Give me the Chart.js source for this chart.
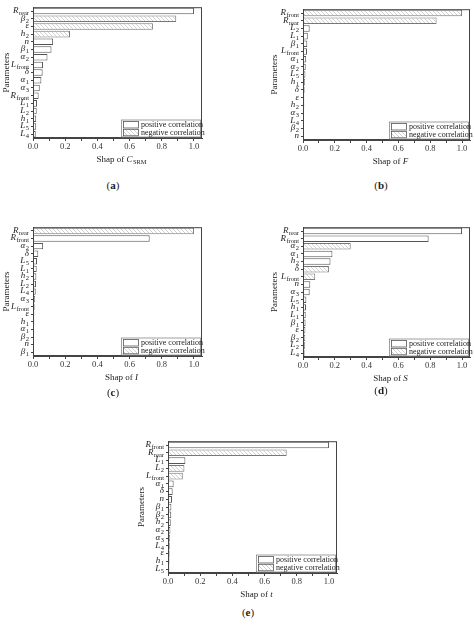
<!DOCTYPE html>
<html>
<head>
<meta charset="utf-8">
<script src="https://cdn.jsdelivr.net/npm/chart.js@4/dist/chart.umd.min.js"></script>
<style>
  html, body { margin: 0; padding: 0; background: #fff; }
  body { width: 474px; height: 629px; position: relative; overflow: hidden; }
  canvas { position: absolute; }
  .cap { position: absolute; font-family: "Liberation Serif", serif; font-size: 11px; color: #222; transform: translateX(-50%); }
  .cap b { font-weight: bold; }
</style>
</head>
<body>
<canvas id="ca" width="205" height="172" style="left:0;top:0"></canvas>
<canvas id="cb" width="205" height="172" style="left:268px;top:2px"></canvas>
<canvas id="cc" width="205" height="170" style="left:0;top:220px"></canvas>
<canvas id="cd" width="205" height="170" style="left:268px;top:220px"></canvas>
<canvas id="ce" width="205" height="172" style="left:135px;top:434px"></canvas>
<div class="cap" style="left:113px;top:179px">(<b>a</b>)</div>
<div class="cap" style="left:381px;top:179px">(<b>b</b>)</div>
<div class="cap" style="left:113px;top:386px">(<b>c</b>)</div>
<div class="cap" style="left:381px;top:384px">(<b>d</b>)</div>
<div class="cap" style="left:248px;top:606px">(<b>e</b>)</div>
<script>
// panel (a): Shap of C_SRM
const labelsA = ['R_rear','β_2','ε','h_2','n','β_1','α_2','L_front','δ','α_1','α_3','R_front','L_1','L_2','h_1','L_5','L_4'];
const valuesA = [1.0, 0.89, 0.745, 0.23, 0.125, 0.115, 0.09, 0.062, 0.06, 0.052, 0.042, 0.035, 0.025, 0.023, 0.02, 0.02, 0.017];
const signA   = [1, -1, -1, -1, 1, 1, 1, 1, 1, 1, 1, 1, 1, 1, 1, 1, 1];

// panel (b): Shap of F
const labelsB = ['R_front','R_rear','L_2','L_1','β_1','L_front','α_1','α_2','L_5','h_1','δ','ε','h_2','α_3','L_4','β_2','n'];
const valuesB = [1.0, 0.84, 0.042, 0.03, 0.027, 0.025, 0.02, 0.017, 0.015, 0.012, 0.01, 0.008, 0.008, 0.007, 0.006, 0.005, 0.004];
const signB   = [-1, -1, 1, 1, 1, 1, 1, 1, 1, 1, 1, 1, 1, 1, 1, 1, 1];

// panel (c): Shap of I
const labelsC = ['R_rear','R_front','α_2','δ','L_5','L_1','h_2','L_2','L_4','α_3','L_front','ε','h_1','α_1','β_2','n','β_1'];
const valuesC = [1.0, 0.725, 0.063, 0.033, 0.025, 0.023, 0.021, 0.019, 0.017, 0.012, 0.01, 0.008, 0.008, 0.007, 0.006, 0.005, 0.004];
const signC   = [-1, 1, 1, 1, 1, 1, 1, 1, 1, 1, 1, 1, 1, 1, 1, 1, 1];

// panel (d): Shap of S
const labelsD = ['R_rear','R_front','α_2','α_1','h_2','δ','L_front','n','α_3','L_5','h_1','L_1','β_1','ε','β_2','L_2','L_4'];
const valuesD = [1.0, 0.79, 0.30, 0.185, 0.173, 0.163, 0.077, 0.046, 0.042, 0.021, 0.019, 0.017, 0.016, 0.015, 0.014, 0.013, 0.01];
const signD   = [1, 1, -1, 1, 1, -1, -1, 1, 1, 1, 1, 1, 1, 1, 1, 1, 1];

// panel (e): Shap of t
const labelsE = ['R_front','R_rear','L_1','L_2','L_front','α_1','δ','n','β_1','β_2','h_2','α_2','α_3','L_4','ε','h_1','L_5'];
const valuesE = [1.0, 0.7375, 0.108, 0.102, 0.092, 0.035, 0.029, 0.025, 0.021, 0.02, 0.017, 0.015, 0.013, 0.011, 0.01, 0.009, 0.008];
const signE   = [1, -1, 1, -1, -1, 1, 1, 1, 1, 1, 1, 1, 1, 1, 1, 1, 1];

const xTicks = ['0.0','0.2','0.4','0.6','0.8','1.0'];
const legendText = ['positive correlation', 'negative correlation'];

const SERIF = '"Liberation Serif", "DejaVu Serif", serif';
const AXIS = '#444';

function hatchPattern(ctx) {
  const c = document.createElement('canvas');
  c.width = 4; c.height = 4;
  const g = c.getContext('2d');
  g.fillStyle = '#fff';
  g.fillRect(0, 0, 4, 4);
  g.strokeStyle = '#c4c4c4';
  g.lineWidth = 0.8;
  g.beginPath();
  g.moveTo(0, 0); g.lineTo(4, 4);
  g.moveTo(-1, 3); g.lineTo(1, 5);
  g.moveTo(3, -1); g.lineTo(5, 1);
  g.stroke();
  return ctx.createPattern(c, 'repeat');
}

// "main_sub": italic main symbol with a smaller roman subscript
function symbolWidth(ctx, s, size) {
  const [m, sub] = s.split('_');
  ctx.font = 'italic ' + size + 'px ' + SERIF;
  let w = ctx.measureText(m).width;
  if (sub) { ctx.font = (size * 0.72) + 'px ' + SERIF; w += ctx.measureText(sub).width + 0.5; }
  return w;
}
function drawSymbol(ctx, s, x, y, size) {
  const [m, sub] = s.split('_');
  ctx.textBaseline = 'middle';
  ctx.textAlign = 'left';
  ctx.font = 'italic ' + size + 'px ' + SERIF;
  ctx.fillText(m, x, y);
  if (sub) {
    const mw = ctx.measureText(m).width;
    ctx.font = (size * 0.72) + 'px ' + SERIF;
    ctx.fillText(sub, x + mw + 0.5, y + size * 0.3);
  }
}

const decorPlugin = {
  id: 'decor',
  afterDraw(chart, args, opts) {
    const ctx = chart.ctx;
    const a = chart.chartArea;
    const y = chart.scales.y;
    ctx.save();
    // frame top/right
    ctx.strokeStyle = AXIS;
    ctx.lineWidth = 1;
    ctx.strokeRect(a.left + 0.5, a.top + 0.5, a.right - a.left - 1, a.bottom - a.top - 1);
    // y labels
    ctx.fillStyle = '#222';
    chart.data.labels.forEach((lab, i) => {
      const py = y.getPixelForValue(i);
      const w = symbolWidth(ctx, lab, 9);
      drawSymbol(ctx, lab, a.left - 4 - w, py - 0.5, 9);
    });
    // y title
    ctx.save();
    ctx.translate(7, (a.top + a.bottom) / 2);
    ctx.rotate(-Math.PI / 2);
    ctx.font = '9px ' + SERIF;
    ctx.textAlign = 'center';
    ctx.textBaseline = 'middle';
    ctx.fillText('Parameters', 0, 0);
    ctx.restore();
    // x title
    ctx.font = '9px ' + SERIF;
    const pre = 'Shap of ';
    const pw = ctx.measureText(pre).width;
    const tw = pw + symbolWidth(ctx, opts.title, 9);
    const tx = (a.left + a.right) / 2 - tw / 2 + 4;
    const ty = a.bottom + 22;
    ctx.font = '9px ' + SERIF;
    ctx.textAlign = 'left';
    ctx.textBaseline = 'middle';
    ctx.fillText(pre, tx, ty);
    drawSymbol(ctx, opts.title, tx + pw, ty, 9);
    // legend box
    const lw = 79, lh = 17;
    const lx = a.right - lw - 2, ly = a.bottom - lh - 1.5;
    ctx.fillStyle = '#fff';
    ctx.fillRect(lx, ly, lw, lh);
    ctx.strokeStyle = '#888';
    ctx.lineWidth = 0.8;
    ctx.strokeRect(lx + 0.5, ly + 0.5, lw, lh);
    const ds = chart.data.datasets;
    legendText.forEach((t, k) => {
      const ry = ly + 1.5 + k * 7.8;
      ctx.fillStyle = ds[k].backgroundColor;
      ctx.fillRect(lx + 2, ry, 15, 6.5);
      ctx.strokeStyle = '#555';
      ctx.strokeRect(lx + 2.5, ry + 0.5, 15, 6.5);
      ctx.fillStyle = '#222';
      ctx.font = '8px ' + SERIF;
      ctx.textBaseline = 'middle';
      ctx.fillText(t, lx + 20, ry + 4);
    });
    ctx.restore();
  }
};

function makeChart(id, labels, values, signs, title, plotLeft, plotTop, plotBottom) {
  const canvas = document.getElementById(id);
  const ctx = canvas.getContext('2d');
  const pattern = hatchPattern(ctx);
  return new Chart(ctx, {
    type: 'bar',
    data: {
      labels: labels,
      datasets: [
        {
          label: legendText[0],
          data: values.map((v, i) => signs[i] > 0 ? v : null),
          backgroundColor: '#ffffff',
          borderColor: '#555',
          borderWidth: 1
        },
        {
          label: legendText[1],
          data: values.map((v, i) => signs[i] < 0 ? v : null),
          backgroundColor: pattern,
          borderColor: '#777',
          borderWidth: 1
        }
      ]
    },
    options: {
      indexAxis: 'y',
      responsive: false,
      animation: false,
      devicePixelRatio: 1,
      layout: { padding: { top: plotTop, right: 3, left: 0, bottom: 0 } },
      datasets: { bar: { barPercentage: 0.85, categoryPercentage: 1.0 } },
      plugins: {
        legend: { display: false },
        tooltip: { enabled: false },
        decor: { title: title }
      },
      scales: {
        x: {
          stacked: true,
          min: 0,
          max: 1.05,
          afterFit: s => { s.height = canvas.height - plotBottom; },
          border: { color: AXIS, width: 1 },
          grid: { drawOnChartArea: false, tickLength: 3, color: AXIS },
          ticks: {
            stepSize: 0.1,
            includeBounds: false,
            autoSkip: false,
            maxRotation: 0,
            padding: 1,
            color: '#333',
            font: { family: SERIF, size: 8.5 },
            callback: v => {
              const k = Math.round(v * 10);
              return (Math.abs(v * 10 - k) < 1e-4 && k % 2 === 0) ? xTicks[k / 2] : '';
            }
          }
        },
        y: {
          stacked: true,
          afterFit: s => { s.width = plotLeft; },
          border: { color: AXIS, width: 1 },
          grid: { drawOnChartArea: false, tickLength: 2, color: AXIS, offset: false },
          ticks: { autoSkip: false, callback: () => '', padding: 0 }
        }
      }
    },
    plugins: [decorPlugin]
  });
}

makeChart('ca', labelsA, valuesA, signA, 'C_SRM', 33, 2, 138);
makeChart('cb', labelsB, valuesB, signB, 'F', 35, 2, 138);
makeChart('cc', labelsC, valuesC, signC, 'I', 33, 2, 136);
makeChart('cd', labelsD, valuesD, signD, 'S', 35, 2, 137);
makeChart('ce', labelsE, valuesE, signE, 't', 33, 2, 139);
</script>
</body>
</html>
